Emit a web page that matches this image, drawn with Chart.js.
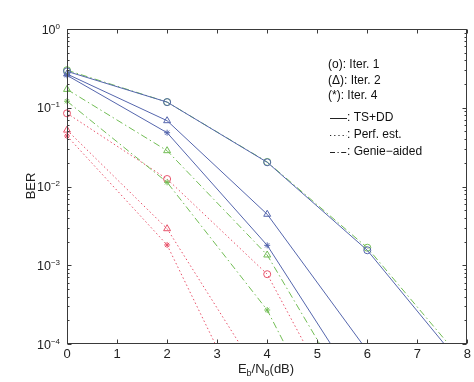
<!DOCTYPE html>
<html>
<head>
<meta charset="utf-8">
<script src="https://cdn.jsdelivr.net/npm/chart.js@4.4.0/dist/chart.umd.min.js"></script>
<style>
  body { margin: 0; background: #fff; }
  canvas { display: block; }
</style>
</head>
<body>
<canvas id="ber" width="474" height="382"></canvas>
<script>
// ---- data (BER vs Eb/N0) ----
const snr = [0, 2, 4, 6, 8];
const yTicks = [1e-4, 1e-3, 1e-2, 1e-1, 1];
const xTicks = [0, 1, 2, 3, 4, 5, 6, 7, 8];

// TS+DD (solid, blue)
const tsddIter1 = [0.29, 0.118, 0.0203, 0.00155, 4.4e-5];
const tsddIter2 = [0.268, 0.0685, 0.00444, 8.2e-5];
const tsddIter4 = [0.258, 0.0482, 0.00179, 1.9e-5];
// Genie-aided (dash-dot, green)
const genieIter1 = [0.30, 0.118, 0.0205, 0.00167, 5.2e-5];
const genieIter2 = [0.171, 0.0285, 0.00135, 9.5e-6];
const genieIter4 = [0.121, 0.0113, 0.00027, 9e-7];
// Perfect estimation (dotted, red)
const perfIter1 = [0.085, 0.01245, 0.00077, 3.3e-6];
const perfIter2 = [0.052, 0.00291, 2.8e-5];
const perfIter4 = [0.0438, 0.00181, 4.4e-6];

const legendLines = ['(o): Iter. 1', '(\u0394): Iter. 2', '(*): Iter. 4'];
const styleLines = [': TS+DD', ': Perf. est.', ': Genie\u2212aided'];

// ---- styles ----
const BLUE = '#5566ad';
const GREEN = '#72bd55';
const RED = '#e8526a';
const FONT = '"Liberation Sans", Arial, sans-serif';

function pts(vals) {
  return vals.map((v, i) => ({ x: snr[i], y: v }));
}

function series(label, vals, color, marker, dash) {
  return {
    label: label,
    data: pts(vals),
    borderColor: color,
    backgroundColor: color,
    borderWidth: 1,
    borderDash: dash,
    pointStyle: marker,
    pointRadius: marker === 'star' ? 3 : (marker === 'triangle' ? 4 : 3.5),
    pointBorderColor: color,
    pointBackgroundColor: 'rgba(0,0,0,0)',
    pointBorderWidth: 1,
    tension: 0,
    clip: { left: 6, top: 6, right: 6, bottom: 0 }
  };
}

const SOLID = [];
const DOTTED = [1.5, 2.5];
const DASHDOT = [7, 3, 1.5, 3];

// ---- frame, ticks and texts ----
const frame = {
  id: 'frame',
  afterDraw(chart) {
    const { ctx, chartArea: a, scales: { x, y } } = chart;
    const L = Math.round(a.left) + 0.5, R = Math.round(a.right) - 0.5;
    const T = Math.round(a.top) + 0.5, B = Math.round(a.bottom) - 0.5;
    ctx.save();
    ctx.strokeStyle = '#3a3a3a';
    ctx.lineWidth = 1;
    ctx.setLineDash([]);
    ctx.strokeRect(L, T, R - L, B - T);

    ctx.beginPath();
    xTicks.forEach(v => {
      const px = Math.round(x.getPixelForValue(v)) + 0.5;
      ctx.moveTo(px, B); ctx.lineTo(px, B - 4);
      ctx.moveTo(px, T); ctx.lineTo(px, T + 4);
    });
    yTicks.forEach(v => {
      const py = Math.round(y.getPixelForValue(v)) + 0.5;
      ctx.moveTo(L, py); ctx.lineTo(L + 4, py);
      ctx.moveTo(R, py); ctx.lineTo(R - 4, py);
    });
    for (let p = -4; p < 0; p++) {
      for (let m = 2; m <= 9; m++) {
        const py = Math.round(y.getPixelForValue(m * Math.pow(10, p))) + 0.5;
        ctx.moveTo(L, py); ctx.lineTo(L + 2, py);
        ctx.moveTo(R, py); ctx.lineTo(R - 2, py);
      }
    }
    ctx.stroke();

    // y tick labels 10^p
    ctx.fillStyle = '#222';
    ctx.textBaseline = 'alphabetic';
    yTicks.forEach(v => {
      const p = Math.round(Math.log10(v));
      const py = y.getPixelForValue(v);
      const exp = p === 0 ? '0' : '\u2212' + (-p);
      ctx.font = '8px ' + FONT;
      const ew = ctx.measureText(exp).width;
      const right = a.left - 7;
      ctx.textAlign = 'left';
      ctx.fillText(exp, right - ew, py - 0.5);
      ctx.font = '12.5px ' + FONT;
      ctx.textAlign = 'right';
      ctx.fillText('10', right - ew, py + 4.5);
    });

    // y title
    ctx.save();
    ctx.translate(35, 186);
    ctx.rotate(-Math.PI / 2);
    ctx.font = '13px ' + FONT;
    ctx.textAlign = 'center';
    ctx.fillText('BER', 0, 0);
    ctx.restore();

    // x title E_b/N_0(dB)
    const parts = [['E', 13, 0], ['b', 9, 3], ['/N', 13, 0], ['0', 9, 3], ['(dB)', 13, 0]];
    let w = 0;
    parts.forEach(p => { ctx.font = p[1] + 'px ' + FONT; w += ctx.measureText(p[0]).width; });
    let cx = 266 - w / 2;
    ctx.textAlign = 'left';
    parts.forEach(p => {
      ctx.font = p[1] + 'px ' + FONT;
      ctx.fillText(p[0], cx, 373 + p[2]);
      cx += ctx.measureText(p[0]).width;
    });

    // annotation box
    ctx.font = '12px ' + FONT;
    ctx.fillStyle = '#111';
    ctx.textBaseline = 'middle';
    const ly = [65, 80.5, 95.5];
    legendLines.forEach((t, i) => ctx.fillText(t, 328, ly[i]));
    const sy = [118, 135, 151.5];
    const dashes = [SOLID, [1.2, 3], [5, 2.5, 1.2, 2.5]];
    styleLines.forEach((t, i) => {
      ctx.strokeStyle = '#222';
      ctx.setLineDash(dashes[i]);
      ctx.beginPath();
      ctx.moveTo(330, Math.round(sy[i]) + 0.5);
      ctx.lineTo(347, Math.round(sy[i]) + 0.5);
      ctx.stroke();
      ctx.fillText(t, 347, sy[i]);
    });
    ctx.restore();
  }
};

new Chart(document.getElementById('ber'), {
  type: 'line',
  data: {
    datasets: [
      series('TS+DD Iter. 1', tsddIter1, BLUE, 'circle', SOLID),
      series('TS+DD Iter. 2', tsddIter2, BLUE, 'triangle', SOLID),
      series('TS+DD Iter. 4', tsddIter4, BLUE, 'star', SOLID),
      series('Genie-aided Iter. 1', genieIter1, GREEN, 'circle', DASHDOT),
      series('Genie-aided Iter. 2', genieIter2, GREEN, 'triangle', DASHDOT),
      series('Genie-aided Iter. 4', genieIter4, GREEN, 'star', DASHDOT),
      series('Perf. est. Iter. 1', perfIter1, RED, 'circle', DOTTED),
      series('Perf. est. Iter. 2', perfIter2, RED, 'triangle', DOTTED),
      series('Perf. est. Iter. 4', perfIter4, RED, 'star', DOTTED)
    ]
  },
  options: {
    responsive: false,
    animation: false,
    layout: { padding: { left: 0, top: 29, right: 6.5, bottom: 0 } },
    plugins: { legend: { display: false }, tooltip: { enabled: false } },
    scales: {
      x: {
        type: 'linear',
        min: 0,
        max: 8,
        afterFit: s => { s.height = 38; },
        grid: { display: false, drawTicks: false },
        border: { display: false },
        ticks: { stepSize: 1, padding: 3, color: '#222', font: { size: 13, family: FONT } }
      },
      y: {
        type: 'logarithmic',
        min: 1e-4,
        max: 1,
        afterFit: s => { s.width = 67; },
        grid: { display: false, drawTicks: false },
        border: { display: false },
        ticks: { display: false }
      }
    }
  },
  plugins: [frame]
});
</script>
</body>
</html>
